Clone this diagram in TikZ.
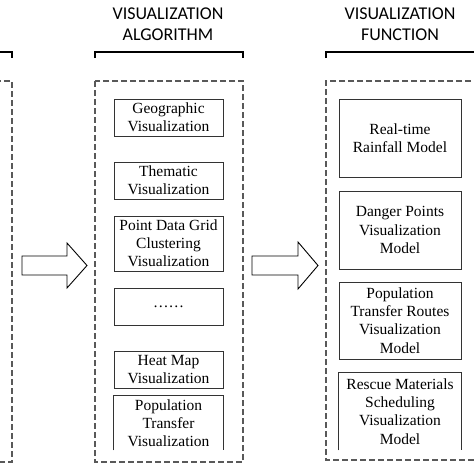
\documentclass[tikz,border=0pt]{standalone}
\usepackage{fontspec}
\setmainfont{Liberation Serif}
\newfontfamily\headfont{Carlito}
\begin{document}
\begin{tikzpicture}[x=1pt,y=-1pt,
  dashbox/.style={draw=black!65, line width=1.2pt, dash pattern=on 6pt off 3pt},
  bracket/.style={draw=black, line width=1.6pt},
  algbox/.style={draw=black!80, line width=0.9pt, minimum width=109pt, inner sep=0pt, align=center,
    font=\fontsize{15.5}{18}\selectfont},
  funbox/.style={draw=black!80, line width=0.9pt, minimum width=122pt, inner sep=0pt, align=center,
    font=\fontsize{15.5}{18.3}\selectfont},
  heading/.style={inner sep=0pt, align=center, font=\headfont\fontsize{18}{21}\selectfont},
  blockarrow/.style={draw=black, line width=0.9pt, fill=white}]
\useasboundingbox (0,0) rectangle (474,474);
\fill[white] (0,0) rectangle (474,474);

% headings
\node[heading] (halg) at (168,24.5) {VISUALIZATION\\ALGORITHM};
\node[heading] (hfun) at (400,24.5) {VISUALIZATION\\FUNCTION};

% brackets
\draw[bracket] (-5,52) -- (12,52) -- (12,58);
\draw[bracket] (95,58) -- (95,52) -- (243,52) -- (243,58);
\draw[bracket] (326,58) -- (326,52) -- (480,52);

% dashed boxes
\draw[dashbox] (-5,81) -- (12,81) -- (12,462) -- (-5,462);
\draw[dashbox] (95,81) rectangle (243,462);
\draw[dashbox] (480,81) -- (326,81) -- (326,460) -- (480,460);

% block arrows
\draw[blockarrow] (22,256) -- (67,256) -- (67,243) -- (87,265.5) -- (67,288) -- (67,275) -- (22,275) -- cycle;
\draw[blockarrow] (252,256) -- (298,256) -- (298,242) -- (318,265.5) -- (298,289) -- (298,275) -- (252,275) -- cycle;

% algorithm boxes
\node[algbox, minimum height=37pt] (geo) at (168.5,117.5) {Geographic\\Visualization};
\node[algbox, minimum height=37pt] (the) at (168.5,180.5) {Thematic\\Visualization};
\node[algbox, minimum height=55pt] (pdg) at (168.5,243.5) {Point Data Grid\\Clustering\\Visualization};
\node[algbox, minimum height=37pt] (dots) at (168.5,306.5) {……};
\node[algbox, minimum height=37pt] (heat) at (168.5,369.5) {Heat Map\\Visualization};
\node[algbox, draw=none, minimum height=54pt] (ptv) at (168.5,423) {Population\\Transfer\\Visualization};
\draw[black!80, line width=0.9pt] (ptv.south west) -- (ptv.north west) -- (ptv.north east) -- (ptv.south east);

% function boxes
\node[funbox, minimum height=78pt] (rain) at (400,138) {Real-time\\Rainfall Model};
\node[funbox, minimum height=78pt] (dang) at (400,230) {Danger Points\\Visualization\\Model};
\node[funbox, minimum height=77pt] (ptr) at (400,320.5) {Population\\Transfer Routes\\Visualization\\Model};
\node[funbox, draw=none, minimum height=77pt] (res) at (400,411.5) {Rescue Materials\\Scheduling\\Visualization\\Model};
\draw[black!80, line width=0.9pt] (res.south west) -- (res.north west) -- (res.north east) -- (res.south east);
\end{tikzpicture}
\end{document}
